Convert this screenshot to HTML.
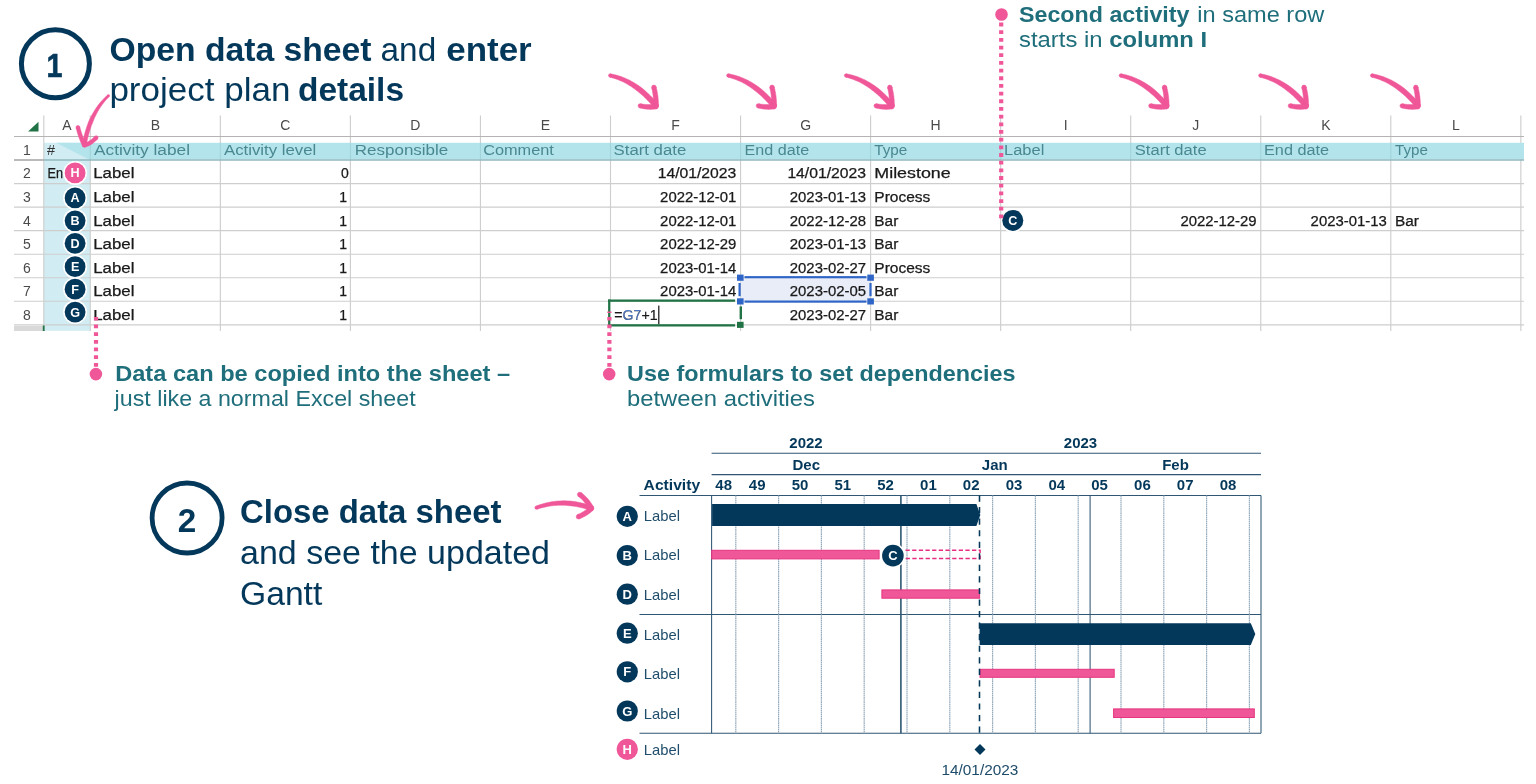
<!DOCTYPE html>
<html lang="en">
<head>
<meta charset="utf-8">
<title>Gantt data sheet – how to</title>
<style>
html,body{margin:0;padding:0;background:#fff;}
body{width:1536px;height:784px;overflow:hidden;font-family:"Liberation Sans",sans-serif;}
svg{display:block;}
text{white-space:pre;}
</style>
</head>
<body>
<svg width="1536" height="784" viewBox="0 0 1536 784">
<rect width="1536" height="784" fill="#fff"/>
<g id="sheet">
<rect x="43.8" y="142.8" width="46.5" height="188" fill="#d1edf3"/>
<g stroke="#cecece" stroke-width="1.15">
<line x1="14" y1="183.59" x2="1524" y2="183.59"/>
<line x1="14" y1="207.13" x2="1524" y2="207.13"/>
<line x1="14" y1="230.67000000000002" x2="1524" y2="230.67000000000002"/>
<line x1="14" y1="254.21" x2="1524" y2="254.21"/>
<line x1="14" y1="277.75" x2="1524" y2="277.75"/>
<line x1="14" y1="301.29" x2="1524" y2="301.29"/>
<line x1="14" y1="324.83000000000004" x2="1524" y2="324.83000000000004"/>
<line x1="43.8" y1="115.5" x2="43.8" y2="331"/>
<line x1="90.3" y1="115.5" x2="90.3" y2="331"/>
<line x1="220.35000000000002" y1="115.5" x2="220.35000000000002" y2="331"/>
<line x1="350.40000000000003" y1="115.5" x2="350.40000000000003" y2="331"/>
<line x1="480.45000000000005" y1="115.5" x2="480.45000000000005" y2="331"/>
<line x1="610.5" y1="115.5" x2="610.5" y2="331"/>
<line x1="740.55" y1="115.5" x2="740.55" y2="331"/>
<line x1="870.6" y1="115.5" x2="870.6" y2="331"/>
<line x1="1000.6500000000001" y1="115.5" x2="1000.6500000000001" y2="331"/>
<line x1="1130.7" y1="115.5" x2="1130.7" y2="331"/>
<line x1="1260.75" y1="115.5" x2="1260.75" y2="331"/>
<line x1="1390.8" y1="115.5" x2="1390.8" y2="331"/>
<line x1="1520.8500000000001" y1="115.5" x2="1520.8500000000001" y2="331"/>
</g>
<rect x="90.3" y="142.8" width="1433.7" height="16.6" fill="#b3e4eb"/>
<polygon points="56.099999999999994,142.8 90.3,142.8 90.3,159.4 89.1,159.4" fill="#b3e4eb"/>
<line x1="90.3" y1="142.8" x2="90.3" y2="159.4" stroke="#a1d4db" stroke-width="1.1"/>
<line x1="220.35000000000002" y1="142.8" x2="220.35000000000002" y2="159.4" stroke="#a1d4db" stroke-width="1.1"/>
<line x1="350.40000000000003" y1="142.8" x2="350.40000000000003" y2="159.4" stroke="#a1d4db" stroke-width="1.1"/>
<line x1="480.45000000000005" y1="142.8" x2="480.45000000000005" y2="159.4" stroke="#a1d4db" stroke-width="1.1"/>
<line x1="610.5" y1="142.8" x2="610.5" y2="159.4" stroke="#a1d4db" stroke-width="1.1"/>
<line x1="740.55" y1="142.8" x2="740.55" y2="159.4" stroke="#a1d4db" stroke-width="1.1"/>
<line x1="870.6" y1="142.8" x2="870.6" y2="159.4" stroke="#a1d4db" stroke-width="1.1"/>
<line x1="1000.6500000000001" y1="142.8" x2="1000.6500000000001" y2="159.4" stroke="#a1d4db" stroke-width="1.1"/>
<line x1="1130.7" y1="142.8" x2="1130.7" y2="159.4" stroke="#a1d4db" stroke-width="1.1"/>
<line x1="1260.75" y1="142.8" x2="1260.75" y2="159.4" stroke="#a1d4db" stroke-width="1.1"/>
<line x1="1390.8" y1="142.8" x2="1390.8" y2="159.4" stroke="#a1d4db" stroke-width="1.1"/>
<line x1="14" y1="136.5" x2="1524" y2="136.5" stroke="#b4b4b4" stroke-width="1.2"/>
<line x1="14" y1="160" x2="43.8" y2="160" stroke="#a9a9a9" stroke-width="1.6"/>
<line x1="43.8" y1="160" x2="1524" y2="160" stroke="#8fb9bf" stroke-width="1.6"/>
<polygon points="38.5,121.7 38.5,131.4 28.1,131.4" fill="#217346"/>
<rect x="14" y="326" width="29" height="5" fill="#d9d9d9"/>
<rect x="42.8" y="325.5" width="1.8" height="5.5" fill="#217346"/>
<g font-family='"Liberation Sans", sans-serif'>
<text x="67.0" y="130.2" font-size="14" font-weight="normal" fill="#4a4a4a" text-anchor="middle">A</text>
<text x="155.3" y="130.2" font-size="14" font-weight="normal" fill="#4a4a4a" text-anchor="middle">B</text>
<text x="285.4" y="130.2" font-size="14" font-weight="normal" fill="#4a4a4a" text-anchor="middle">C</text>
<text x="415.4" y="130.2" font-size="14" font-weight="normal" fill="#4a4a4a" text-anchor="middle">D</text>
<text x="545.5" y="130.2" font-size="14" font-weight="normal" fill="#4a4a4a" text-anchor="middle">E</text>
<text x="675.5" y="130.2" font-size="14" font-weight="normal" fill="#4a4a4a" text-anchor="middle">F</text>
<text x="805.6" y="130.2" font-size="14" font-weight="normal" fill="#4a4a4a" text-anchor="middle">G</text>
<text x="935.6" y="130.2" font-size="14" font-weight="normal" fill="#4a4a4a" text-anchor="middle">H</text>
<text x="1065.7" y="130.2" font-size="14" font-weight="normal" fill="#4a4a4a" text-anchor="middle">I</text>
<text x="1195.7" y="130.2" font-size="14" font-weight="normal" fill="#4a4a4a" text-anchor="middle">J</text>
<text x="1325.8" y="130.2" font-size="14" font-weight="normal" fill="#4a4a4a" text-anchor="middle">K</text>
<text x="1455.8" y="130.2" font-size="14" font-weight="normal" fill="#4a4a4a" text-anchor="middle">L</text>
<text x="27" y="154.8" font-size="14" font-weight="normal" fill="#4a4a4a" text-anchor="middle">1</text>
<text x="27" y="178.4" font-size="14" font-weight="normal" fill="#4a4a4a" text-anchor="middle">2</text>
<text x="27" y="202.0" font-size="14" font-weight="normal" fill="#4a4a4a" text-anchor="middle">3</text>
<text x="27" y="225.5" font-size="14" font-weight="normal" fill="#4a4a4a" text-anchor="middle">4</text>
<text x="27" y="249.1" font-size="14" font-weight="normal" fill="#4a4a4a" text-anchor="middle">5</text>
<text x="27" y="272.6" font-size="14" font-weight="normal" fill="#4a4a4a" text-anchor="middle">6</text>
<text x="27" y="296.2" font-size="14" font-weight="normal" fill="#4a4a4a" text-anchor="middle">7</text>
<text x="27" y="319.8" font-size="14" font-weight="normal" fill="#4a4a4a" text-anchor="middle">8</text>
<text x="46.9" y="155" font-size="14" font-weight="normal" fill="#333" text-anchor="start" textLength="8" lengthAdjust="spacingAndGlyphs">#</text>
<text x="94" y="155" font-size="14" font-weight="normal" fill="#4a8891" text-anchor="start" textLength="96" lengthAdjust="spacingAndGlyphs">Activity label</text>
<text x="224" y="155" font-size="14" font-weight="normal" fill="#4a8891" text-anchor="start" textLength="92.3" lengthAdjust="spacingAndGlyphs">Activity level</text>
<text x="354.8" y="155" font-size="14" font-weight="normal" fill="#4a8891" text-anchor="start" textLength="93.5" lengthAdjust="spacingAndGlyphs">Responsible</text>
<text x="483.2" y="155" font-size="14" font-weight="normal" fill="#4a8891" text-anchor="start" textLength="70.7" lengthAdjust="spacingAndGlyphs">Comment</text>
<text x="613.6" y="155" font-size="14" font-weight="normal" fill="#4a8891" text-anchor="start" textLength="72.6" lengthAdjust="spacingAndGlyphs">Start date</text>
<text x="744.6" y="155" font-size="14" font-weight="normal" fill="#4a8891" text-anchor="start" textLength="64.6" lengthAdjust="spacingAndGlyphs">End date</text>
<text x="874.3" y="155" font-size="14" font-weight="normal" fill="#4a8891" text-anchor="start" textLength="33" lengthAdjust="spacingAndGlyphs">Type</text>
<text x="1004" y="155" font-size="14" font-weight="normal" fill="#4a8891" text-anchor="start" textLength="40.3" lengthAdjust="spacingAndGlyphs">Label</text>
<text x="1134.8" y="155" font-size="14" font-weight="normal" fill="#4a8891" text-anchor="start" textLength="71.8" lengthAdjust="spacingAndGlyphs">Start date</text>
<text x="1264" y="155" font-size="14" font-weight="normal" fill="#4a8891" text-anchor="start" textLength="65.1" lengthAdjust="spacingAndGlyphs">End date</text>
<text x="1395" y="155" font-size="14" font-weight="normal" fill="#4a8891" text-anchor="start" textLength="32.8" lengthAdjust="spacingAndGlyphs">Type</text>
<text x="47.6" y="178.4" font-size="14" font-weight="normal" fill="#1a1a1a" text-anchor="start" textLength="15.5" lengthAdjust="spacingAndGlyphs" stroke="#1a1a1a" stroke-width="0.25">En</text>
<text x="93.2" y="178.4" font-size="14" font-weight="normal" fill="#1a1a1a" text-anchor="start" textLength="41.2" lengthAdjust="spacingAndGlyphs" stroke="#1a1a1a" stroke-width="0.25">Label</text>
<text x="348.8" y="178.4" font-size="14" font-weight="normal" fill="#1a1a1a" text-anchor="end" stroke="#1a1a1a" stroke-width="0.25">0</text>
<text x="93.2" y="202.0" font-size="14" font-weight="normal" fill="#1a1a1a" text-anchor="start" textLength="41.2" lengthAdjust="spacingAndGlyphs" stroke="#1a1a1a" stroke-width="0.25">Label</text>
<text x="347" y="202.0" font-size="14" font-weight="normal" fill="#1a1a1a" text-anchor="end" stroke="#1a1a1a" stroke-width="0.25">1</text>
<text x="93.2" y="225.5" font-size="14" font-weight="normal" fill="#1a1a1a" text-anchor="start" textLength="41.2" lengthAdjust="spacingAndGlyphs" stroke="#1a1a1a" stroke-width="0.25">Label</text>
<text x="347" y="225.5" font-size="14" font-weight="normal" fill="#1a1a1a" text-anchor="end" stroke="#1a1a1a" stroke-width="0.25">1</text>
<text x="93.2" y="249.1" font-size="14" font-weight="normal" fill="#1a1a1a" text-anchor="start" textLength="41.2" lengthAdjust="spacingAndGlyphs" stroke="#1a1a1a" stroke-width="0.25">Label</text>
<text x="347" y="249.1" font-size="14" font-weight="normal" fill="#1a1a1a" text-anchor="end" stroke="#1a1a1a" stroke-width="0.25">1</text>
<text x="93.2" y="272.6" font-size="14" font-weight="normal" fill="#1a1a1a" text-anchor="start" textLength="41.2" lengthAdjust="spacingAndGlyphs" stroke="#1a1a1a" stroke-width="0.25">Label</text>
<text x="347" y="272.6" font-size="14" font-weight="normal" fill="#1a1a1a" text-anchor="end" stroke="#1a1a1a" stroke-width="0.25">1</text>
<text x="93.2" y="296.2" font-size="14" font-weight="normal" fill="#1a1a1a" text-anchor="start" textLength="41.2" lengthAdjust="spacingAndGlyphs" stroke="#1a1a1a" stroke-width="0.25">Label</text>
<text x="347" y="296.2" font-size="14" font-weight="normal" fill="#1a1a1a" text-anchor="end" stroke="#1a1a1a" stroke-width="0.25">1</text>
<text x="93.2" y="319.8" font-size="14" font-weight="normal" fill="#1a1a1a" text-anchor="start" textLength="41.2" lengthAdjust="spacingAndGlyphs" stroke="#1a1a1a" stroke-width="0.25">Label</text>
<text x="347" y="319.8" font-size="14" font-weight="normal" fill="#1a1a1a" text-anchor="end" stroke="#1a1a1a" stroke-width="0.25">1</text>
<text x="874.3" y="178.4" font-size="14" font-weight="normal" fill="#1a1a1a" text-anchor="start" textLength="76.4" lengthAdjust="spacingAndGlyphs" stroke="#1a1a1a" stroke-width="0.25">Milestone</text>
<text x="657.7" y="178.4" font-size="14" font-weight="normal" fill="#1a1a1a" text-anchor="start" textLength="78.6" lengthAdjust="spacingAndGlyphs" stroke="#1a1a1a" stroke-width="0.25">14/01/2023</text>
<text x="874.3" y="202.0" font-size="14" font-weight="normal" fill="#1a1a1a" text-anchor="start" textLength="56" lengthAdjust="spacingAndGlyphs" stroke="#1a1a1a" stroke-width="0.25">Process</text>
<text x="660.1" y="202.0" font-size="14" font-weight="normal" fill="#1a1a1a" text-anchor="start" textLength="76.2" lengthAdjust="spacingAndGlyphs" stroke="#1a1a1a" stroke-width="0.25">2022-12-01</text>
<text x="874.3" y="225.5" font-size="14" font-weight="normal" fill="#1a1a1a" text-anchor="start" textLength="24" lengthAdjust="spacingAndGlyphs" stroke="#1a1a1a" stroke-width="0.25">Bar</text>
<text x="660.1" y="225.5" font-size="14" font-weight="normal" fill="#1a1a1a" text-anchor="start" textLength="76.2" lengthAdjust="spacingAndGlyphs" stroke="#1a1a1a" stroke-width="0.25">2022-12-01</text>
<text x="874.3" y="249.1" font-size="14" font-weight="normal" fill="#1a1a1a" text-anchor="start" textLength="24" lengthAdjust="spacingAndGlyphs" stroke="#1a1a1a" stroke-width="0.25">Bar</text>
<text x="660.1" y="249.1" font-size="14" font-weight="normal" fill="#1a1a1a" text-anchor="start" textLength="76.2" lengthAdjust="spacingAndGlyphs" stroke="#1a1a1a" stroke-width="0.25">2022-12-29</text>
<text x="874.3" y="272.6" font-size="14" font-weight="normal" fill="#1a1a1a" text-anchor="start" textLength="56" lengthAdjust="spacingAndGlyphs" stroke="#1a1a1a" stroke-width="0.25">Process</text>
<text x="660.1" y="272.6" font-size="14" font-weight="normal" fill="#1a1a1a" text-anchor="start" textLength="76.2" lengthAdjust="spacingAndGlyphs" stroke="#1a1a1a" stroke-width="0.25">2023-01-14</text>
<text x="874.3" y="296.2" font-size="14" font-weight="normal" fill="#1a1a1a" text-anchor="start" textLength="24" lengthAdjust="spacingAndGlyphs" stroke="#1a1a1a" stroke-width="0.25">Bar</text>
<text x="660.1" y="296.2" font-size="14" font-weight="normal" fill="#1a1a1a" text-anchor="start" textLength="76.2" lengthAdjust="spacingAndGlyphs" stroke="#1a1a1a" stroke-width="0.25">2023-01-14</text>
<text x="874.3" y="319.8" font-size="14" font-weight="normal" fill="#1a1a1a" text-anchor="start" textLength="24" lengthAdjust="spacingAndGlyphs" stroke="#1a1a1a" stroke-width="0.25">Bar</text>
<rect x="740.6" y="278.2" width="129.6" height="22.6" fill="#e9edf8"/>
<text x="787.4" y="178.4" font-size="14" font-weight="normal" fill="#1a1a1a" text-anchor="start" textLength="78.6" lengthAdjust="spacingAndGlyphs" stroke="#1a1a1a" stroke-width="0.25">14/01/2023</text>
<text x="789.8" y="202.0" font-size="14" font-weight="normal" fill="#1a1a1a" text-anchor="start" textLength="76.2" lengthAdjust="spacingAndGlyphs" stroke="#1a1a1a" stroke-width="0.25">2023-01-13</text>
<text x="789.8" y="225.5" font-size="14" font-weight="normal" fill="#1a1a1a" text-anchor="start" textLength="76.2" lengthAdjust="spacingAndGlyphs" stroke="#1a1a1a" stroke-width="0.25">2022-12-28</text>
<text x="789.8" y="249.1" font-size="14" font-weight="normal" fill="#1a1a1a" text-anchor="start" textLength="76.2" lengthAdjust="spacingAndGlyphs" stroke="#1a1a1a" stroke-width="0.25">2023-01-13</text>
<text x="789.8" y="272.6" font-size="14" font-weight="normal" fill="#1a1a1a" text-anchor="start" textLength="76.2" lengthAdjust="spacingAndGlyphs" stroke="#1a1a1a" stroke-width="0.25">2023-02-27</text>
<text x="789.8" y="296.2" font-size="14" font-weight="normal" fill="#1a1a1a" text-anchor="start" textLength="76.2" lengthAdjust="spacingAndGlyphs" stroke="#1a1a1a" stroke-width="0.25">2023-02-05</text>
<text x="789.8" y="319.8" font-size="14" font-weight="normal" fill="#1a1a1a" text-anchor="start" textLength="76.2" lengthAdjust="spacingAndGlyphs" stroke="#1a1a1a" stroke-width="0.25">2023-02-27</text>
<text x="1180.4" y="225.5" font-size="14" font-weight="normal" fill="#1a1a1a" text-anchor="start" textLength="76.2" lengthAdjust="spacingAndGlyphs" stroke="#1a1a1a" stroke-width="0.25">2022-12-29</text>
<text x="1310.6" y="225.5" font-size="14" font-weight="normal" fill="#1a1a1a" text-anchor="start" textLength="76.2" lengthAdjust="spacingAndGlyphs" stroke="#1a1a1a" stroke-width="0.25">2023-01-13</text>
<text x="1395" y="225.5" font-size="14" font-weight="normal" fill="#1a1a1a" text-anchor="start" textLength="24" lengthAdjust="spacingAndGlyphs" stroke="#1a1a1a" stroke-width="0.25">Bar</text>
<rect x="610" y="301.5" width="129" height="23" fill="#fff"/>
<text x="614.2" y="319.8" font-size="14" fill="#1a1a1a" stroke="#1a1a1a" stroke-width="0.2" textLength="43.4" lengthAdjust="spacingAndGlyphs">=<tspan fill="#4a76c9">G7</tspan>+1</text>
<rect x="658.2" y="305.6" width="1.2" height="18.8" fill="#111"/>
</g>
<g fill="#2f65c7">
<rect x="744.5" y="276.1" width="122" height="2.2"/><rect x="744.5" y="300.5" width="122" height="2.2"/>
<rect x="738.5" y="283" width="2.2" height="13.2"/><rect x="869.4" y="283" width="2.2" height="13.2"/>
<rect x="737" y="274.6" width="6.6" height="6.2"/>
<rect x="737" y="298.3" width="6.6" height="6.2"/>
<rect x="867.3" y="274.6" width="6.6" height="6.2"/>
<rect x="867.3" y="298.3" width="6.6" height="6.2"/>
</g>
<g fill="#217346">
<rect x="608.1" y="299.5" width="127" height="2.3"/>
<rect x="608.1" y="324.2" width="127" height="2.3"/>
<rect x="608.1" y="299.5" width="2.3" height="27"/>
<rect x="739.6" y="306.4" width="2.4" height="12.8"/>
<rect x="737" y="321.8" width="6.6" height="6.1"/>
</g>
<circle cx="75.1" cy="172.9" r="12.0" fill="#fff"/><circle cx="75.1" cy="172.9" r="10.4" fill="#ef5799"/>
<text x="75.1" y="177.3" font-family='"Liberation Sans", sans-serif' font-size="12.6" font-weight="bold" fill="#fff" text-anchor="middle">H</text>
<circle cx="75.1" cy="197.9" r="12.0" fill="#fff"/><circle cx="75.1" cy="197.9" r="10.4" fill="#04385b"/>
<text x="75.1" y="202.3" font-family='"Liberation Sans", sans-serif' font-size="12.6" font-weight="bold" fill="#fff" text-anchor="middle">A</text>
<circle cx="75.1" cy="220.8" r="12.0" fill="#fff"/><circle cx="75.1" cy="220.8" r="10.4" fill="#04385b"/>
<text x="75.1" y="225.2" font-family='"Liberation Sans", sans-serif' font-size="12.6" font-weight="bold" fill="#fff" text-anchor="middle">B</text>
<circle cx="75.1" cy="243.3" r="12.0" fill="#fff"/><circle cx="75.1" cy="243.3" r="10.4" fill="#04385b"/>
<text x="75.1" y="247.8" font-family='"Liberation Sans", sans-serif' font-size="12.6" font-weight="bold" fill="#fff" text-anchor="middle">D</text>
<circle cx="75.1" cy="266.7" r="12.0" fill="#fff"/><circle cx="75.1" cy="266.7" r="10.4" fill="#04385b"/>
<text x="75.1" y="271.1" font-family='"Liberation Sans", sans-serif' font-size="12.6" font-weight="bold" fill="#fff" text-anchor="middle">E</text>
<circle cx="75.1" cy="289.2" r="12.0" fill="#fff"/><circle cx="75.1" cy="289.2" r="10.4" fill="#04385b"/>
<text x="75.1" y="293.6" font-family='"Liberation Sans", sans-serif' font-size="12.6" font-weight="bold" fill="#fff" text-anchor="middle">F</text>
<circle cx="75.1" cy="312.1" r="12.0" fill="#fff"/><circle cx="75.1" cy="312.1" r="10.4" fill="#04385b"/>
<text x="75.1" y="316.6" font-family='"Liberation Sans", sans-serif' font-size="12.6" font-weight="bold" fill="#fff" text-anchor="middle">G</text>
<circle cx="1012.8" cy="220.4" r="12.0" fill="#fff"/><circle cx="1012.8" cy="220.4" r="10.5" fill="#04385b"/>
<text x="1012.8" y="224.8" font-family='"Liberation Sans", sans-serif' font-size="12.6" font-weight="bold" fill="#fff" text-anchor="middle">C</text>
</g>
<g id="heads" font-family='"Liberation Sans", sans-serif' fill="#04385b">
<circle cx="55.4" cy="63.8" r="34" fill="none" stroke="#04385b" stroke-width="5"/>
<text x="54.6" y="76.9" font-size="33.3" font-weight="bold" fill="#04385b" text-anchor="middle" textLength="16" lengthAdjust="spacingAndGlyphs" stroke="#04385b" stroke-width="0.6">1</text>
<text x="109.5" y="60.5" font-size="33.3" font-weight="bold" fill="#04385b" text-anchor="start" textLength="262" lengthAdjust="spacingAndGlyphs">Open data sheet</text>
<text x="380.6" y="60.5" font-size="33.3" font-weight="normal" fill="#04385b" text-anchor="start" textLength="55.6" lengthAdjust="spacingAndGlyphs">and</text>
<text x="446.2" y="60.5" font-size="33.3" font-weight="bold" fill="#04385b" text-anchor="start" textLength="85.5" lengthAdjust="spacingAndGlyphs">enter</text>
<text x="109.4" y="100.7" font-size="33.3" font-weight="normal" fill="#04385b" text-anchor="start" textLength="181" lengthAdjust="spacingAndGlyphs">project plan</text>
<text x="298" y="100.7" font-size="33.3" font-weight="bold" fill="#04385b" text-anchor="start" textLength="106" lengthAdjust="spacingAndGlyphs">details</text>
<circle cx="187.1" cy="518" r="35" fill="none" stroke="#04385b" stroke-width="4.8"/>
<text x="187" y="531.5" font-size="33.3" font-weight="bold" fill="#04385b" text-anchor="middle">2</text>
<text x="240" y="523.1" font-size="33.3" font-weight="bold" fill="#04385b" text-anchor="start" textLength="261.5" lengthAdjust="spacingAndGlyphs">Close data sheet</text>
<text x="240" y="564" font-size="33.3" font-weight="normal" fill="#04385b" text-anchor="start" textLength="310" lengthAdjust="spacingAndGlyphs">and see the updated</text>
<text x="240" y="604.8" font-size="33.3" font-weight="normal" fill="#04385b" text-anchor="start" textLength="82.3" lengthAdjust="spacingAndGlyphs">Gantt</text>
</g>
<g id="notes" font-family='"Liberation Sans", sans-serif' fill="#1f6e7b">
<text x="1019" y="21.8" font-size="22.3" font-weight="bold" fill="#1f6e7b" text-anchor="start" textLength="170.5" lengthAdjust="spacingAndGlyphs">Second activity</text>
<text x="1197.3" y="21.8" font-size="22.3" font-weight="normal" fill="#1f6e7b" text-anchor="start" textLength="127" lengthAdjust="spacingAndGlyphs">in same row</text>
<text x="1019" y="46.9" font-size="22.3" font-weight="normal" fill="#1f6e7b" text-anchor="start" textLength="83.5" lengthAdjust="spacingAndGlyphs">starts in</text>
<text x="1109.3" y="46.9" font-size="22.3" font-weight="bold" fill="#1f6e7b" text-anchor="start" textLength="97.8" lengthAdjust="spacingAndGlyphs">column I</text>
<text x="115.2" y="381" font-size="22.3" font-weight="bold" fill="#1f6e7b" text-anchor="start" textLength="395" lengthAdjust="spacingAndGlyphs">Data can be copied into the sheet –</text>
<text x="114.6" y="406" font-size="22.3" font-weight="normal" fill="#1f6e7b" text-anchor="start" textLength="301" lengthAdjust="spacingAndGlyphs">just like a normal Excel sheet</text>
<text x="627" y="381" font-size="22.3" font-weight="bold" fill="#1f6e7b" text-anchor="start" textLength="388.5" lengthAdjust="spacingAndGlyphs">Use formulars to set dependencies</text>
<text x="627" y="406" font-size="22.3" font-weight="normal" fill="#1f6e7b" text-anchor="start" textLength="188" lengthAdjust="spacingAndGlyphs">between activities</text>
</g>
<g fill="#ef5799" stroke="#ef5799" stroke-width="4.2">
<line x1="1001.2" y1="22.6" x2="1001.2" y2="218.4" stroke-dasharray="3.8 3.876"/>
<line x1="96" y1="316.9" x2="96" y2="367" stroke-dasharray="3.7 3.98"/>
<line x1="609.4" y1="311.6" x2="609.4" y2="367" stroke-dasharray="3.7 3.98" stroke-dashoffset="2.38"/>
<circle cx="1001.5" cy="14.5" r="6.3" stroke="none"/>
<circle cx="95.9" cy="374.1" r="6.3" stroke="none"/>
<circle cx="609.2" cy="374.1" r="6.3" stroke="none"/>
</g>
<g id="arrows" fill="#ef5799" stroke="#ef5799" stroke-width="0.5" stroke-linejoin="round">
<path d="M107.8,94.9 L106.2,96.3 L104.6,97.8 L103.1,99.4 L101.6,101.0 L100.2,102.6 L98.8,104.3 L97.5,106.1 L96.2,107.9 L95.0,109.7 L93.8,111.7 L92.7,113.6 L91.6,115.6 L90.5,117.7 L89.5,119.8 L88.5,122.0 L87.7,124.3 L86.9,126.5 L86.1,128.9 L85.4,131.3 L84.7,133.7 L84.1,136.2 L83.5,138.7 L83.0,141.3 L82.5,144.0 L86.5,144.6 L86.9,142.1 L87.4,139.6 L88.0,137.1 L88.6,134.7 L89.2,132.4 L89.9,130.1 L90.7,127.8 L91.4,125.6 L92.3,123.5 L93.1,121.4 L93.9,119.3 L94.8,117.3 L95.8,115.3 L96.8,113.3 L97.8,111.4 L98.9,109.6 L100.0,107.8 L101.2,106.1 L102.4,104.3 L103.7,102.7 L105.0,101.1 L106.4,99.5 L107.8,98.0 L109.2,96.5Z"/><circle cx="108.5" cy="95.7" r="1.10"/><circle cx="84.5" cy="144.3" r="2.00"/>
<path d="M76.1,127.8 L76.2,128.5 L76.4,129.3 L76.7,130.1 L76.9,130.9 L77.1,131.7 L77.3,132.4 L77.5,133.2 L77.8,134.0 L78.0,134.7 L78.3,135.5 L78.5,136.2 L78.8,137.0 L79.1,137.8 L79.3,138.5 L79.6,139.3 L79.9,140.0 L80.2,140.7 L80.5,141.5 L80.8,142.2 L81.2,143.0 L81.5,143.7 L81.8,144.4 L82.2,145.1 L82.5,145.9 L86.1,144.1 L85.8,143.4 L85.4,142.7 L85.1,142.0 L84.8,141.3 L84.5,140.6 L84.2,139.9 L83.9,139.2 L83.6,138.5 L83.3,137.8 L83.1,137.1 L82.8,136.4 L82.5,135.7 L82.2,134.9 L82.0,134.2 L81.7,133.5 L81.5,132.8 L81.3,132.0 L81.0,131.3 L80.8,130.6 L80.6,129.8 L80.4,129.1 L80.1,128.3 L79.9,127.6 L79.7,126.8Z"/><circle cx="77.9" cy="127.3" r="1.90"/><circle cx="84.3" cy="145.0" r="2.00"/>
<path d="M94.8,136.3 L94.4,136.8 L93.9,137.2 L93.5,137.7 L93.0,138.1 L92.6,138.5 L92.2,138.9 L91.7,139.2 L91.3,139.6 L90.8,139.9 L90.4,140.2 L89.9,140.5 L89.5,140.8 L89.0,141.1 L88.6,141.4 L88.1,141.6 L87.7,141.9 L87.2,142.1 L86.7,142.3 L86.3,142.5 L85.8,142.7 L85.3,142.8 L84.9,143.0 L84.4,143.1 L83.9,143.3 L84.9,147.1 L85.5,147.0 L86.1,146.8 L86.6,146.6 L87.2,146.4 L87.8,146.2 L88.3,146.0 L88.9,145.7 L89.5,145.4 L90.0,145.1 L90.6,144.8 L91.1,144.5 L91.6,144.2 L92.1,143.8 L92.7,143.4 L93.2,143.0 L93.7,142.6 L94.2,142.2 L94.7,141.8 L95.2,141.3 L95.7,140.9 L96.2,140.4 L96.7,139.9 L97.1,139.4 L97.6,138.9Z"/><circle cx="96.2" cy="137.6" r="1.90"/><circle cx="84.4" cy="145.2" r="2.00"/>
<path d="M609.9,77.2 L611.9,77.7 L613.8,78.3 L615.8,78.9 L617.7,79.6 L619.7,80.4 L621.6,81.2 L623.5,82.1 L625.3,83.1 L627.2,84.1 L629.0,85.2 L630.8,86.3 L632.6,87.5 L634.4,88.8 L636.2,90.2 L638.0,91.6 L639.7,93.0 L641.5,94.5 L643.3,96.1 L645.0,97.7 L646.7,99.4 L648.4,101.2 L650.1,103.0 L651.8,104.9 L653.5,106.9 L657.5,103.5 L655.8,101.5 L654.0,99.5 L652.2,97.6 L650.4,95.7 L648.6,94.0 L646.8,92.2 L644.9,90.6 L643.1,89.0 L641.2,87.5 L639.2,86.1 L637.3,84.8 L635.3,83.5 L633.3,82.3 L631.3,81.2 L629.3,80.1 L627.3,79.2 L625.2,78.2 L623.2,77.4 L621.1,76.6 L619.0,75.9 L616.9,75.3 L614.8,74.7 L612.7,74.3 L610.5,73.8Z"/><circle cx="610.2" cy="75.5" r="1.70"/><circle cx="655.5" cy="105.2" r="2.60"/>
<path d="M651.7,87.9 L651.9,88.5 L652.0,89.2 L652.2,89.9 L652.3,90.6 L652.4,91.2 L652.6,91.9 L652.7,92.7 L652.8,93.4 L652.9,94.1 L653.0,94.8 L653.1,95.6 L653.1,96.3 L653.2,97.1 L653.3,97.8 L653.4,98.6 L653.4,99.4 L653.5,100.1 L653.5,100.9 L653.6,101.7 L653.6,102.5 L653.6,103.3 L653.7,104.2 L653.7,105.0 L653.7,105.8 L658.5,105.8 L658.5,104.9 L658.5,104.0 L658.4,103.2 L658.4,102.3 L658.4,101.5 L658.3,100.6 L658.3,99.8 L658.2,99.0 L658.1,98.2 L658.0,97.3 L658.0,96.5 L657.9,95.7 L657.7,95.0 L657.6,94.2 L657.5,93.4 L657.4,92.6 L657.2,91.9 L657.1,91.1 L656.9,90.4 L656.8,89.6 L656.6,88.9 L656.4,88.2 L656.3,87.5 L656.1,86.7Z"/><circle cx="653.9" cy="87.3" r="2.25"/><circle cx="656.1" cy="105.8" r="2.40"/>
<path d="M639.7,107.9 L640.4,108.1 L641.1,108.2 L641.8,108.4 L642.5,108.5 L643.2,108.7 L643.9,108.8 L644.6,108.9 L645.3,109.0 L646.0,109.1 L646.7,109.2 L647.4,109.2 L648.0,109.3 L648.7,109.3 L649.4,109.3 L650.1,109.4 L650.8,109.4 L651.5,109.3 L652.2,109.3 L652.9,109.3 L653.6,109.2 L654.3,109.1 L655.0,109.1 L655.7,109.0 L656.4,108.9 L655.6,104.1 L655.0,104.2 L654.4,104.3 L653.8,104.4 L653.2,104.4 L652.6,104.5 L652.0,104.5 L651.3,104.5 L650.7,104.6 L650.1,104.6 L649.5,104.6 L648.9,104.6 L648.3,104.6 L647.6,104.6 L647.0,104.5 L646.4,104.5 L645.8,104.5 L645.1,104.4 L644.5,104.3 L643.9,104.3 L643.2,104.2 L642.6,104.1 L642.0,104.0 L641.3,103.8 L640.7,103.7Z"/><circle cx="640.2" cy="105.8" r="2.15"/><circle cx="656.0" cy="106.5" r="2.40"/>
<path d="M728.0,77.2 L730.0,77.7 L731.9,78.3 L733.9,78.9 L735.8,79.6 L737.8,80.4 L739.7,81.2 L741.6,82.1 L743.4,83.1 L745.3,84.1 L747.1,85.2 L748.9,86.3 L750.7,87.5 L752.5,88.8 L754.3,90.2 L756.1,91.6 L757.8,93.0 L759.6,94.5 L761.4,96.1 L763.1,97.7 L764.8,99.4 L766.5,101.2 L768.2,103.0 L769.9,104.9 L771.6,106.9 L775.6,103.5 L773.9,101.5 L772.1,99.5 L770.3,97.6 L768.5,95.7 L766.7,94.0 L764.9,92.2 L763.0,90.6 L761.2,89.0 L759.3,87.5 L757.3,86.1 L755.4,84.8 L753.4,83.5 L751.4,82.3 L749.4,81.2 L747.4,80.1 L745.4,79.2 L743.3,78.2 L741.3,77.4 L739.2,76.6 L737.1,75.9 L735.0,75.3 L732.9,74.7 L730.8,74.3 L728.6,73.8Z"/><circle cx="728.3" cy="75.5" r="1.70"/><circle cx="773.6" cy="105.2" r="2.60"/>
<path d="M769.8,87.9 L770.0,88.5 L770.1,89.2 L770.3,89.9 L770.4,90.6 L770.5,91.2 L770.7,91.9 L770.8,92.7 L770.9,93.4 L771.0,94.1 L771.1,94.8 L771.2,95.6 L771.2,96.3 L771.3,97.1 L771.4,97.8 L771.5,98.6 L771.5,99.4 L771.6,100.1 L771.6,100.9 L771.7,101.7 L771.7,102.5 L771.7,103.3 L771.8,104.2 L771.8,105.0 L771.8,105.8 L776.6,105.8 L776.6,104.9 L776.6,104.0 L776.5,103.2 L776.5,102.3 L776.5,101.5 L776.4,100.6 L776.4,99.8 L776.3,99.0 L776.2,98.2 L776.1,97.3 L776.1,96.5 L776.0,95.7 L775.8,95.0 L775.7,94.2 L775.6,93.4 L775.5,92.6 L775.3,91.9 L775.2,91.1 L775.0,90.4 L774.9,89.6 L774.7,88.9 L774.5,88.2 L774.4,87.5 L774.2,86.7Z"/><circle cx="772.0" cy="87.3" r="2.25"/><circle cx="774.2" cy="105.8" r="2.40"/>
<path d="M757.8,107.9 L758.5,108.1 L759.2,108.2 L759.9,108.4 L760.6,108.5 L761.3,108.7 L762.0,108.8 L762.7,108.9 L763.4,109.0 L764.1,109.1 L764.8,109.2 L765.5,109.2 L766.1,109.3 L766.8,109.3 L767.5,109.3 L768.2,109.4 L768.9,109.4 L769.6,109.3 L770.3,109.3 L771.0,109.3 L771.7,109.2 L772.4,109.1 L773.1,109.1 L773.8,109.0 L774.5,108.9 L773.7,104.1 L773.1,104.2 L772.5,104.3 L771.9,104.4 L771.3,104.4 L770.7,104.5 L770.1,104.5 L769.4,104.5 L768.8,104.6 L768.2,104.6 L767.6,104.6 L767.0,104.6 L766.4,104.6 L765.7,104.6 L765.1,104.5 L764.5,104.5 L763.9,104.5 L763.2,104.4 L762.6,104.3 L762.0,104.3 L761.3,104.2 L760.7,104.1 L760.1,104.0 L759.4,103.8 L758.8,103.7Z"/><circle cx="758.3" cy="105.8" r="2.15"/><circle cx="774.1" cy="106.5" r="2.40"/>
<path d="M845.8,77.2 L847.8,77.7 L849.7,78.3 L851.7,78.9 L853.6,79.6 L855.6,80.4 L857.5,81.2 L859.4,82.1 L861.2,83.1 L863.1,84.1 L864.9,85.2 L866.7,86.3 L868.5,87.5 L870.3,88.8 L872.1,90.2 L873.9,91.6 L875.6,93.0 L877.4,94.5 L879.2,96.1 L880.9,97.7 L882.6,99.4 L884.3,101.2 L886.0,103.0 L887.7,104.9 L889.4,106.9 L893.4,103.5 L891.7,101.5 L889.9,99.5 L888.1,97.6 L886.3,95.7 L884.5,94.0 L882.7,92.2 L880.8,90.6 L879.0,89.0 L877.1,87.5 L875.1,86.1 L873.2,84.8 L871.2,83.5 L869.2,82.3 L867.2,81.2 L865.2,80.1 L863.2,79.2 L861.1,78.2 L859.1,77.4 L857.0,76.6 L854.9,75.9 L852.8,75.3 L850.7,74.7 L848.6,74.3 L846.4,73.8Z"/><circle cx="846.1" cy="75.5" r="1.70"/><circle cx="891.4" cy="105.2" r="2.60"/>
<path d="M887.6,87.9 L887.8,88.5 L887.9,89.2 L888.1,89.9 L888.2,90.6 L888.3,91.2 L888.5,91.9 L888.6,92.7 L888.7,93.4 L888.8,94.1 L888.9,94.8 L889.0,95.6 L889.0,96.3 L889.1,97.1 L889.2,97.8 L889.3,98.6 L889.3,99.4 L889.4,100.1 L889.4,100.9 L889.5,101.7 L889.5,102.5 L889.5,103.3 L889.6,104.2 L889.6,105.0 L889.6,105.8 L894.4,105.8 L894.4,104.9 L894.4,104.0 L894.3,103.2 L894.3,102.3 L894.3,101.5 L894.2,100.6 L894.2,99.8 L894.1,99.0 L894.0,98.2 L893.9,97.3 L893.9,96.5 L893.8,95.7 L893.6,95.0 L893.5,94.2 L893.4,93.4 L893.3,92.6 L893.1,91.9 L893.0,91.1 L892.8,90.4 L892.7,89.6 L892.5,88.9 L892.3,88.2 L892.2,87.5 L892.0,86.7Z"/><circle cx="889.8" cy="87.3" r="2.25"/><circle cx="892.0" cy="105.8" r="2.40"/>
<path d="M875.6,107.9 L876.3,108.1 L877.0,108.2 L877.7,108.4 L878.4,108.5 L879.1,108.7 L879.8,108.8 L880.5,108.9 L881.2,109.0 L881.9,109.1 L882.6,109.2 L883.3,109.2 L883.9,109.3 L884.6,109.3 L885.3,109.3 L886.0,109.4 L886.7,109.4 L887.4,109.3 L888.1,109.3 L888.8,109.3 L889.5,109.2 L890.2,109.1 L890.9,109.1 L891.6,109.0 L892.3,108.9 L891.5,104.1 L890.9,104.2 L890.3,104.3 L889.7,104.4 L889.1,104.4 L888.5,104.5 L887.9,104.5 L887.2,104.5 L886.6,104.6 L886.0,104.6 L885.4,104.6 L884.8,104.6 L884.2,104.6 L883.5,104.6 L882.9,104.5 L882.3,104.5 L881.7,104.5 L881.0,104.4 L880.4,104.3 L879.8,104.3 L879.1,104.2 L878.5,104.1 L877.9,104.0 L877.2,103.8 L876.6,103.7Z"/><circle cx="876.1" cy="105.8" r="2.15"/><circle cx="891.9" cy="106.5" r="2.40"/>
<path d="M1120.5,77.2 L1122.5,77.7 L1124.4,78.3 L1126.4,78.9 L1128.3,79.6 L1130.3,80.4 L1132.2,81.2 L1134.1,82.1 L1135.9,83.1 L1137.8,84.1 L1139.6,85.2 L1141.4,86.3 L1143.2,87.5 L1145.0,88.8 L1146.8,90.2 L1148.6,91.6 L1150.3,93.0 L1152.1,94.5 L1153.9,96.1 L1155.6,97.7 L1157.3,99.4 L1159.0,101.2 L1160.7,103.0 L1162.4,104.9 L1164.1,106.9 L1168.1,103.5 L1166.4,101.5 L1164.6,99.5 L1162.8,97.6 L1161.0,95.7 L1159.2,94.0 L1157.4,92.2 L1155.5,90.6 L1153.7,89.0 L1151.8,87.5 L1149.8,86.1 L1147.9,84.8 L1145.9,83.5 L1143.9,82.3 L1141.9,81.2 L1139.9,80.1 L1137.9,79.2 L1135.8,78.2 L1133.8,77.4 L1131.7,76.6 L1129.6,75.9 L1127.5,75.3 L1125.4,74.7 L1123.3,74.3 L1121.1,73.8Z"/><circle cx="1120.8" cy="75.5" r="1.70"/><circle cx="1166.1" cy="105.2" r="2.60"/>
<path d="M1162.3,87.9 L1162.5,88.5 L1162.6,89.2 L1162.8,89.9 L1162.9,90.6 L1163.0,91.2 L1163.2,91.9 L1163.3,92.7 L1163.4,93.4 L1163.5,94.1 L1163.6,94.8 L1163.7,95.6 L1163.7,96.3 L1163.8,97.1 L1163.9,97.8 L1164.0,98.6 L1164.0,99.4 L1164.1,100.1 L1164.1,100.9 L1164.2,101.7 L1164.2,102.5 L1164.2,103.3 L1164.3,104.2 L1164.3,105.0 L1164.3,105.8 L1169.1,105.8 L1169.1,104.9 L1169.1,104.0 L1169.0,103.2 L1169.0,102.3 L1169.0,101.5 L1168.9,100.6 L1168.9,99.8 L1168.8,99.0 L1168.7,98.2 L1168.6,97.3 L1168.6,96.5 L1168.5,95.7 L1168.3,95.0 L1168.2,94.2 L1168.1,93.4 L1168.0,92.6 L1167.8,91.9 L1167.7,91.1 L1167.5,90.4 L1167.4,89.6 L1167.2,88.9 L1167.0,88.2 L1166.9,87.5 L1166.7,86.7Z"/><circle cx="1164.5" cy="87.3" r="2.25"/><circle cx="1166.7" cy="105.8" r="2.40"/>
<path d="M1150.3,107.9 L1151.0,108.1 L1151.7,108.2 L1152.4,108.4 L1153.1,108.5 L1153.8,108.7 L1154.5,108.8 L1155.2,108.9 L1155.9,109.0 L1156.6,109.1 L1157.3,109.2 L1158.0,109.2 L1158.6,109.3 L1159.3,109.3 L1160.0,109.3 L1160.7,109.4 L1161.4,109.4 L1162.1,109.3 L1162.8,109.3 L1163.5,109.3 L1164.2,109.2 L1164.9,109.1 L1165.6,109.1 L1166.3,109.0 L1167.0,108.9 L1166.2,104.1 L1165.6,104.2 L1165.0,104.3 L1164.4,104.4 L1163.8,104.4 L1163.2,104.5 L1162.6,104.5 L1161.9,104.5 L1161.3,104.6 L1160.7,104.6 L1160.1,104.6 L1159.5,104.6 L1158.9,104.6 L1158.2,104.6 L1157.6,104.5 L1157.0,104.5 L1156.4,104.5 L1155.7,104.4 L1155.1,104.3 L1154.5,104.3 L1153.8,104.2 L1153.2,104.1 L1152.6,104.0 L1151.9,103.8 L1151.3,103.7Z"/><circle cx="1150.8" cy="105.8" r="2.15"/><circle cx="1166.6" cy="106.5" r="2.40"/>
<path d="M1260.0,77.2 L1262.0,77.7 L1263.9,78.3 L1265.9,78.9 L1267.8,79.6 L1269.8,80.4 L1271.7,81.2 L1273.6,82.1 L1275.4,83.1 L1277.3,84.1 L1279.1,85.2 L1280.9,86.3 L1282.7,87.5 L1284.5,88.8 L1286.3,90.2 L1288.1,91.6 L1289.8,93.0 L1291.6,94.5 L1293.4,96.1 L1295.1,97.7 L1296.8,99.4 L1298.5,101.2 L1300.2,103.0 L1301.9,104.9 L1303.6,106.9 L1307.6,103.5 L1305.9,101.5 L1304.1,99.5 L1302.3,97.6 L1300.5,95.7 L1298.7,94.0 L1296.9,92.2 L1295.0,90.6 L1293.2,89.0 L1291.3,87.5 L1289.3,86.1 L1287.4,84.8 L1285.4,83.5 L1283.4,82.3 L1281.4,81.2 L1279.4,80.1 L1277.4,79.2 L1275.3,78.2 L1273.3,77.4 L1271.2,76.6 L1269.1,75.9 L1267.0,75.3 L1264.9,74.7 L1262.8,74.3 L1260.6,73.8Z"/><circle cx="1260.3" cy="75.5" r="1.70"/><circle cx="1305.6" cy="105.2" r="2.60"/>
<path d="M1301.8,87.9 L1302.0,88.5 L1302.1,89.2 L1302.3,89.9 L1302.4,90.6 L1302.5,91.2 L1302.7,91.9 L1302.8,92.7 L1302.9,93.4 L1303.0,94.1 L1303.1,94.8 L1303.2,95.6 L1303.2,96.3 L1303.3,97.1 L1303.4,97.8 L1303.5,98.6 L1303.5,99.4 L1303.6,100.1 L1303.6,100.9 L1303.7,101.7 L1303.7,102.5 L1303.7,103.3 L1303.8,104.2 L1303.8,105.0 L1303.8,105.8 L1308.6,105.8 L1308.6,104.9 L1308.6,104.0 L1308.5,103.2 L1308.5,102.3 L1308.5,101.5 L1308.4,100.6 L1308.4,99.8 L1308.3,99.0 L1308.2,98.2 L1308.1,97.3 L1308.1,96.5 L1308.0,95.7 L1307.8,95.0 L1307.7,94.2 L1307.6,93.4 L1307.5,92.6 L1307.3,91.9 L1307.2,91.1 L1307.0,90.4 L1306.9,89.6 L1306.7,88.9 L1306.5,88.2 L1306.4,87.5 L1306.2,86.7Z"/><circle cx="1304.0" cy="87.3" r="2.25"/><circle cx="1306.2" cy="105.8" r="2.40"/>
<path d="M1289.8,107.9 L1290.5,108.1 L1291.2,108.2 L1291.9,108.4 L1292.6,108.5 L1293.3,108.7 L1294.0,108.8 L1294.7,108.9 L1295.4,109.0 L1296.1,109.1 L1296.8,109.2 L1297.5,109.2 L1298.1,109.3 L1298.8,109.3 L1299.5,109.3 L1300.2,109.4 L1300.9,109.4 L1301.6,109.3 L1302.3,109.3 L1303.0,109.3 L1303.7,109.2 L1304.4,109.1 L1305.1,109.1 L1305.8,109.0 L1306.5,108.9 L1305.7,104.1 L1305.1,104.2 L1304.5,104.3 L1303.9,104.4 L1303.3,104.4 L1302.7,104.5 L1302.1,104.5 L1301.4,104.5 L1300.8,104.6 L1300.2,104.6 L1299.6,104.6 L1299.0,104.6 L1298.4,104.6 L1297.7,104.6 L1297.1,104.5 L1296.5,104.5 L1295.9,104.5 L1295.2,104.4 L1294.6,104.3 L1294.0,104.3 L1293.3,104.2 L1292.7,104.1 L1292.1,104.0 L1291.4,103.8 L1290.8,103.7Z"/><circle cx="1290.3" cy="105.8" r="2.15"/><circle cx="1306.1" cy="106.5" r="2.40"/>
<path d="M1371.8,77.2 L1373.8,77.7 L1375.7,78.3 L1377.7,78.9 L1379.6,79.6 L1381.6,80.4 L1383.5,81.2 L1385.4,82.1 L1387.2,83.1 L1389.1,84.1 L1390.9,85.2 L1392.7,86.3 L1394.5,87.5 L1396.3,88.8 L1398.1,90.2 L1399.9,91.6 L1401.6,93.0 L1403.4,94.5 L1405.2,96.1 L1406.9,97.7 L1408.6,99.4 L1410.3,101.2 L1412.0,103.0 L1413.7,104.9 L1415.4,106.9 L1419.4,103.5 L1417.7,101.5 L1415.9,99.5 L1414.1,97.6 L1412.3,95.7 L1410.5,94.0 L1408.7,92.2 L1406.8,90.6 L1405.0,89.0 L1403.1,87.5 L1401.1,86.1 L1399.2,84.8 L1397.2,83.5 L1395.2,82.3 L1393.2,81.2 L1391.2,80.1 L1389.2,79.2 L1387.1,78.2 L1385.1,77.4 L1383.0,76.6 L1380.9,75.9 L1378.8,75.3 L1376.7,74.7 L1374.6,74.3 L1372.4,73.8Z"/><circle cx="1372.1" cy="75.5" r="1.70"/><circle cx="1417.4" cy="105.2" r="2.60"/>
<path d="M1413.6,87.9 L1413.8,88.5 L1413.9,89.2 L1414.1,89.9 L1414.2,90.6 L1414.3,91.2 L1414.5,91.9 L1414.6,92.7 L1414.7,93.4 L1414.8,94.1 L1414.9,94.8 L1415.0,95.6 L1415.0,96.3 L1415.1,97.1 L1415.2,97.8 L1415.3,98.6 L1415.3,99.4 L1415.4,100.1 L1415.4,100.9 L1415.5,101.7 L1415.5,102.5 L1415.5,103.3 L1415.6,104.2 L1415.6,105.0 L1415.6,105.8 L1420.4,105.8 L1420.4,104.9 L1420.4,104.0 L1420.3,103.2 L1420.3,102.3 L1420.3,101.5 L1420.2,100.6 L1420.2,99.8 L1420.1,99.0 L1420.0,98.2 L1419.9,97.3 L1419.9,96.5 L1419.8,95.7 L1419.6,95.0 L1419.5,94.2 L1419.4,93.4 L1419.3,92.6 L1419.1,91.9 L1419.0,91.1 L1418.8,90.4 L1418.7,89.6 L1418.5,88.9 L1418.3,88.2 L1418.2,87.5 L1418.0,86.7Z"/><circle cx="1415.8" cy="87.3" r="2.25"/><circle cx="1418.0" cy="105.8" r="2.40"/>
<path d="M1401.6,107.9 L1402.3,108.1 L1403.0,108.2 L1403.7,108.4 L1404.4,108.5 L1405.1,108.7 L1405.8,108.8 L1406.5,108.9 L1407.2,109.0 L1407.9,109.1 L1408.6,109.2 L1409.3,109.2 L1409.9,109.3 L1410.6,109.3 L1411.3,109.3 L1412.0,109.4 L1412.7,109.4 L1413.4,109.3 L1414.1,109.3 L1414.8,109.3 L1415.5,109.2 L1416.2,109.1 L1416.9,109.1 L1417.6,109.0 L1418.3,108.9 L1417.5,104.1 L1416.9,104.2 L1416.3,104.3 L1415.7,104.4 L1415.1,104.4 L1414.5,104.5 L1413.9,104.5 L1413.2,104.5 L1412.6,104.6 L1412.0,104.6 L1411.4,104.6 L1410.8,104.6 L1410.2,104.6 L1409.5,104.6 L1408.9,104.5 L1408.3,104.5 L1407.7,104.5 L1407.0,104.4 L1406.4,104.3 L1405.8,104.3 L1405.1,104.2 L1404.5,104.1 L1403.9,104.0 L1403.2,103.8 L1402.6,103.7Z"/><circle cx="1402.1" cy="105.8" r="2.15"/><circle cx="1417.9" cy="106.5" r="2.40"/>
<path d="M537.1,509.2 L539.2,508.5 L541.3,507.9 L543.4,507.4 L545.6,506.9 L547.7,506.4 L549.9,506.1 L552.0,505.8 L554.2,505.5 L556.4,505.4 L558.5,505.2 L560.7,505.2 L562.9,505.2 L565.1,505.3 L567.3,505.5 L569.5,505.7 L571.8,505.9 L574.0,506.2 L576.3,506.6 L578.5,507.1 L580.8,507.6 L583.1,508.1 L585.4,508.8 L587.7,509.5 L590.0,510.2 L591.6,505.8 L589.1,505.0 L586.7,504.2 L584.3,503.6 L581.9,503.0 L579.5,502.5 L577.1,502.0 L574.7,501.6 L572.3,501.3 L570.0,501.0 L567.6,500.9 L565.3,500.8 L562.9,500.8 L560.6,500.9 L558.3,501.0 L556.0,501.2 L553.7,501.5 L551.5,501.8 L549.2,502.3 L547.0,502.7 L544.7,503.3 L542.5,503.9 L540.3,504.6 L538.1,505.3 L535.9,506.2Z"/><circle cx="536.5" cy="507.7" r="1.65"/><circle cx="590.8" cy="508.0" r="2.35"/>
<path d="M578.3,496.3 L578.9,496.8 L579.4,497.2 L580.0,497.7 L580.5,498.2 L581.0,498.6 L581.5,499.1 L582.0,499.6 L582.5,500.1 L583.0,500.6 L583.5,501.2 L584.0,501.7 L584.4,502.2 L584.8,502.8 L585.3,503.3 L585.7,503.9 L586.1,504.5 L586.5,505.0 L586.9,505.6 L587.3,506.2 L587.7,506.8 L588.1,507.4 L588.4,508.1 L588.8,508.7 L589.1,509.3 L593.5,507.1 L593.1,506.3 L592.7,505.6 L592.3,504.9 L591.9,504.3 L591.4,503.6 L591.0,502.9 L590.5,502.2 L590.1,501.6 L589.6,501.0 L589.1,500.3 L588.6,499.7 L588.1,499.1 L587.6,498.5 L587.0,497.9 L586.5,497.4 L585.9,496.8 L585.4,496.2 L584.8,495.7 L584.2,495.2 L583.6,494.6 L583.0,494.1 L582.4,493.6 L581.7,493.1 L581.1,492.7Z"/><circle cx="579.7" cy="494.5" r="2.30"/><circle cx="591.3" cy="508.2" r="2.45"/>
<path d="M579.4,518.8 L580.0,518.6 L580.7,518.3 L581.3,518.0 L582.0,517.7 L582.6,517.4 L583.3,517.1 L583.9,516.8 L584.5,516.5 L585.1,516.2 L585.7,515.8 L586.3,515.5 L586.9,515.1 L587.4,514.8 L588.0,514.4 L588.5,514.0 L589.1,513.6 L589.6,513.2 L590.1,512.8 L590.6,512.4 L591.1,512.0 L591.6,511.6 L592.1,511.1 L592.6,510.7 L593.0,510.2 L589.6,506.8 L589.2,507.2 L588.8,507.5 L588.4,507.9 L587.9,508.3 L587.5,508.7 L587.1,509.0 L586.6,509.4 L586.1,509.7 L585.7,510.1 L585.2,510.4 L584.7,510.7 L584.2,511.1 L583.7,511.4 L583.2,511.7 L582.7,512.0 L582.2,512.3 L581.7,512.6 L581.1,512.9 L580.6,513.2 L580.0,513.5 L579.4,513.8 L578.8,514.0 L578.2,514.3 L577.6,514.6Z"/><circle cx="578.5" cy="516.7" r="2.30"/><circle cx="591.3" cy="508.5" r="2.45"/>
</g>
<g id="gantt" font-family='"Liberation Sans", sans-serif'>
<g stroke="#2f5673" stroke-width="1.05">
<line x1="711.6" y1="453.3" x2="1261.0" y2="453.3"/><line x1="711.6" y1="474.6" x2="1261.0" y2="474.6"/>
<line x1="639.5" y1="495.5" x2="1261.0" y2="495.5"/>
<line x1="639.5" y1="614.4" x2="1261.0" y2="614.4"/>
<line x1="639.5" y1="733.3" x2="1261.0" y2="733.3"/>
<line x1="711.6" y1="495.5" x2="711.6" y2="733.3"/>
<line x1="900.9" y1="495.5" x2="900.9" y2="733.3" stroke-width="1.6"/>
<line x1="1090.1" y1="495.5" x2="1090.1" y2="733.3"/>
<line x1="1261.0" y1="495.5" x2="1261.0" y2="733.3"/>
</g>
<g stroke="#95abbc" stroke-width="1.2" stroke-dasharray="1.6 0.5">
<line x1="735.8" y1="495.5" x2="735.8" y2="733.3"/>
<line x1="778.6" y1="495.5" x2="778.6" y2="733.3"/>
<line x1="821.4" y1="495.5" x2="821.4" y2="733.3"/>
<line x1="864.2" y1="495.5" x2="864.2" y2="733.3"/>
<line x1="907.0" y1="495.5" x2="907.0" y2="733.3"/>
<line x1="949.8" y1="495.5" x2="949.8" y2="733.3"/>
<line x1="992.6" y1="495.5" x2="992.6" y2="733.3"/>
<line x1="1035.4" y1="495.5" x2="1035.4" y2="733.3"/>
<line x1="1078.2" y1="495.5" x2="1078.2" y2="733.3"/>
<line x1="1121.0" y1="495.5" x2="1121.0" y2="733.3"/>
<line x1="1163.8" y1="495.5" x2="1163.8" y2="733.3"/>
<line x1="1206.6" y1="495.5" x2="1206.6" y2="733.3"/>
<line x1="1249.4" y1="495.5" x2="1249.4" y2="733.3"/>
</g>
<text x="806" y="448.1" font-size="15" font-weight="bold" fill="#04385b" text-anchor="middle">2022</text>
<text x="1080.5" y="448.1" font-size="15" font-weight="bold" fill="#04385b" text-anchor="middle">2023</text>
<text x="806.3" y="469.5" font-size="15" font-weight="bold" fill="#04385b" text-anchor="middle">Dec</text>
<text x="994.8" y="469.5" font-size="15" font-weight="bold" fill="#04385b" text-anchor="middle">Jan</text>
<text x="1175.5" y="469.5" font-size="15" font-weight="bold" fill="#04385b" text-anchor="middle">Feb</text>
<text x="643.6" y="490.1" font-size="15" font-weight="bold" fill="#04385b" text-anchor="start" textLength="56.5" lengthAdjust="spacingAndGlyphs">Activity</text>
<text x="723.7" y="490.1" font-size="15" font-weight="bold" fill="#04385b" text-anchor="middle">48</text>
<text x="757.2" y="490.1" font-size="15" font-weight="bold" fill="#04385b" text-anchor="middle">49</text>
<text x="800.0" y="490.1" font-size="15" font-weight="bold" fill="#04385b" text-anchor="middle">50</text>
<text x="842.8" y="490.1" font-size="15" font-weight="bold" fill="#04385b" text-anchor="middle">51</text>
<text x="885.6" y="490.1" font-size="15" font-weight="bold" fill="#04385b" text-anchor="middle">52</text>
<text x="928.4" y="490.1" font-size="15" font-weight="bold" fill="#04385b" text-anchor="middle">01</text>
<text x="971.2" y="490.1" font-size="15" font-weight="bold" fill="#04385b" text-anchor="middle">02</text>
<text x="1014.0" y="490.1" font-size="15" font-weight="bold" fill="#04385b" text-anchor="middle">03</text>
<text x="1056.8" y="490.1" font-size="15" font-weight="bold" fill="#04385b" text-anchor="middle">04</text>
<text x="1099.6" y="490.1" font-size="15" font-weight="bold" fill="#04385b" text-anchor="middle">05</text>
<text x="1142.4" y="490.1" font-size="15" font-weight="bold" fill="#04385b" text-anchor="middle">06</text>
<text x="1185.2" y="490.1" font-size="15" font-weight="bold" fill="#04385b" text-anchor="middle">07</text>
<text x="1228.0" y="490.1" font-size="15" font-weight="bold" fill="#04385b" text-anchor="middle">08</text>
<polygon points="712.1,504 976.4,504 980.3,515 976.4,526 712.1,526" fill="#04385b"/>
<polygon points="979.6,623.2 1250.8,623.2 1255.3,634.1 1250.8,645 979.6,645" fill="#04385b"/>
<rect x="711.7" y="550.3" width="167.4" height="8.6" fill="#ef5799" stroke="#e7357f" stroke-width="1"/>
<rect x="881.9" y="589.9" width="97.7" height="8.3" fill="#ef5799" stroke="#e7357f" stroke-width="1"/>
<rect x="980.0" y="669.3" width="134.2" height="8.0" fill="#ef5799" stroke="#e7357f" stroke-width="1"/>
<rect x="1113.6" y="708.9" width="140.7" height="8.6" fill="#ef5799" stroke="#e7357f" stroke-width="1"/>
<path d="M905.5,550.2 H980.1 V558.4 H905.5" fill="none" stroke="#e82c80" stroke-width="1.45" stroke-dasharray="4.3 2.35"/>
<line x1="979.5" y1="495.5" x2="979.5" y2="733.3" stroke="#04385b" stroke-width="1.55" stroke-dasharray="6.2 5.35"/>
<polygon points="980,743.9 985.5,749.4 980,754.9 974.5,749.4" fill="#04385b"/>
<text x="979.9" y="775.3" font-size="14" font-weight="normal" fill="#1d4b69" text-anchor="middle" textLength="77" lengthAdjust="spacingAndGlyphs">14/01/2023</text>
<circle cx="627.3" cy="516.3" r="10.6" fill="#fff"/><circle cx="627.3" cy="516.3" r="10.6" fill="#04385b"/>
<text x="627.3" y="520.9" font-family='"Liberation Sans", sans-serif' font-size="13" font-weight="bold" fill="#fff" text-anchor="middle">A</text>
<text x="643.8" y="520.5" font-size="15" font-weight="normal" fill="#1f4d6b" text-anchor="start" textLength="36.2" lengthAdjust="spacingAndGlyphs">Label</text>
<circle cx="627.3" cy="555.5" r="10.6" fill="#fff"/><circle cx="627.3" cy="555.5" r="10.6" fill="#04385b"/>
<text x="627.3" y="560.1" font-family='"Liberation Sans", sans-serif' font-size="13" font-weight="bold" fill="#fff" text-anchor="middle">B</text>
<text x="643.8" y="560" font-size="15" font-weight="normal" fill="#1f4d6b" text-anchor="start" textLength="36.2" lengthAdjust="spacingAndGlyphs">Label</text>
<circle cx="627.3" cy="594.2" r="10.6" fill="#fff"/><circle cx="627.3" cy="594.2" r="10.6" fill="#04385b"/>
<text x="627.3" y="598.8" font-family='"Liberation Sans", sans-serif' font-size="13" font-weight="bold" fill="#fff" text-anchor="middle">D</text>
<text x="643.8" y="599.7" font-size="15" font-weight="normal" fill="#1f4d6b" text-anchor="start" textLength="36.2" lengthAdjust="spacingAndGlyphs">Label</text>
<circle cx="627.3" cy="633.2" r="10.6" fill="#fff"/><circle cx="627.3" cy="633.2" r="10.6" fill="#04385b"/>
<text x="627.3" y="637.8" font-family='"Liberation Sans", sans-serif' font-size="13" font-weight="bold" fill="#fff" text-anchor="middle">E</text>
<text x="643.8" y="639.5" font-size="15" font-weight="normal" fill="#1f4d6b" text-anchor="start" textLength="36.2" lengthAdjust="spacingAndGlyphs">Label</text>
<circle cx="627.3" cy="671.8" r="10.6" fill="#fff"/><circle cx="627.3" cy="671.8" r="10.6" fill="#04385b"/>
<text x="627.3" y="676.4" font-family='"Liberation Sans", sans-serif' font-size="13" font-weight="bold" fill="#fff" text-anchor="middle">F</text>
<text x="643.8" y="679.1" font-size="15" font-weight="normal" fill="#1f4d6b" text-anchor="start" textLength="36.2" lengthAdjust="spacingAndGlyphs">Label</text>
<circle cx="627.3" cy="711" r="10.6" fill="#fff"/><circle cx="627.3" cy="711" r="10.6" fill="#04385b"/>
<text x="627.3" y="715.6" font-family='"Liberation Sans", sans-serif' font-size="13" font-weight="bold" fill="#fff" text-anchor="middle">G</text>
<text x="643.8" y="718.7" font-size="15" font-weight="normal" fill="#1f4d6b" text-anchor="start" textLength="36.2" lengthAdjust="spacingAndGlyphs">Label</text>
<circle cx="627.3" cy="749.3" r="10.6" fill="#fff"/><circle cx="627.3" cy="749.3" r="10.6" fill="#ef5799"/>
<text x="627.3" y="753.9" font-family='"Liberation Sans", sans-serif' font-size="13" font-weight="bold" fill="#fff" text-anchor="middle">H</text>
<text x="643.8" y="754.7" font-size="15" font-weight="normal" fill="#1f4d6b" text-anchor="start" textLength="36.2" lengthAdjust="spacingAndGlyphs">Label</text>
<circle cx="892.9" cy="555.6" r="12.4" fill="#fff"/><circle cx="892.9" cy="555.6" r="10.8" fill="#04385b"/>
<text x="892.9" y="560.2" font-family='"Liberation Sans", sans-serif' font-size="13" font-weight="bold" fill="#fff" text-anchor="middle">C</text>
</g>
</svg>
</body>
</html>
